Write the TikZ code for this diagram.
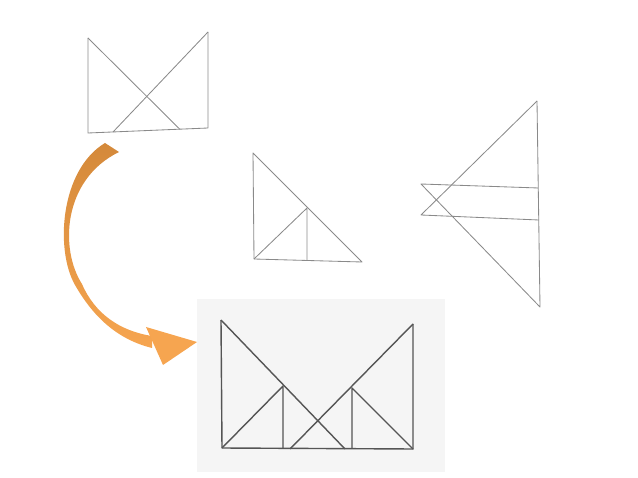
\documentclass[tikz,border=0pt]{standalone}
\usetikzlibrary{calc}
\definecolor{pencil}{HTML}{8A8A8A}
\definecolor{darkpencil}{HTML}{555555}
\definecolor{arrowtop}{HTML}{D4893A}
\definecolor{arrowbot}{HTML}{F6A550}
\definecolor{paper}{HTML}{F5F5F5}
\tikzset{
  sketch/.style={draw=pencil, line width=0.6pt, line join=round},
  darksketch/.style={draw=darkpencil, line width=1pt, line join=round},
}
\begin{document}
\begin{tikzpicture}[x=0.025cm, y=-0.025cm]
    \useasboundingbox (0,0) rectangle (638,478);
    % top left: the two triangles
    \coordinate (a1) at (88,38);
    \coordinate (a2) at (208,32);
    \coordinate (a3) at (88,133);
    \coordinate (a4) at (208,128);
    \draw[sketch] (a1) -- (a3) -- (a4) -- (a2);
    \draw[sketch] (a1) -- (180,129.4);
    \draw[sketch] (a2) -- (113,132);
    % middle triangle
    \coordinate (b1) at (253,153);
    \coordinate (b2) at (254,259);
    \coordinate (b3) at (362,262);
    \coordinate (b4) at (307,208);
    \draw[sketch] (b1) -- (b2) -- (b3) -- cycle;
    \draw[sketch] (b2) -- (b4) -- (307,260.5);
    % right triangle
    \coordinate (c1) at (537,101);
    \coordinate (c2) at (540,307);
    \coordinate (c3) at (421,184);
    \coordinate (c4) at (421,215);
    \draw[sketch] (c1) -- (c2) -- (c3) -- (538.5,188);
    \draw[sketch] (c1) -- (c4) -- (539,220);
    % orange arrow
    \shade[top color=arrowtop, bottom color=arrowbot]
      (105,143) .. controls (60,170) and (55,250) .. (75,285)
      .. controls (95,320) and (120,340) .. (152,348)
      -- (152,336) .. controls (120,331) and (95,314) .. (82,284)
      .. controls (60,250) and (62,180) .. (119,152) -- cycle;
    \fill[arrowbot] (146,327) -- (197,342) -- (163,365) -- cycle;
    % bottom: result
    \fill[paper] (197,299) rectangle (445,472);
    \coordinate (d1) at (221,320);
    \coordinate (d2) at (222,448);
    \coordinate (d3) at (413,449);
    \coordinate (d4) at (413,324);
    \coordinate (d5) at (283,386);
    \coordinate (d6) at (352,388);
    \draw[darksketch] (d1) -- (d2) -- (d3) -- (d4);
    \draw[darksketch] (d1) -- (345,449);
    \draw[darksketch] (d4) -- (290,449);
    \draw[darksketch] (d2) -- (d5) -- (283,448.5);
    \draw[darksketch] (d3) -- (d6) -- (352,448.8);
\end{tikzpicture}
\end{document}
